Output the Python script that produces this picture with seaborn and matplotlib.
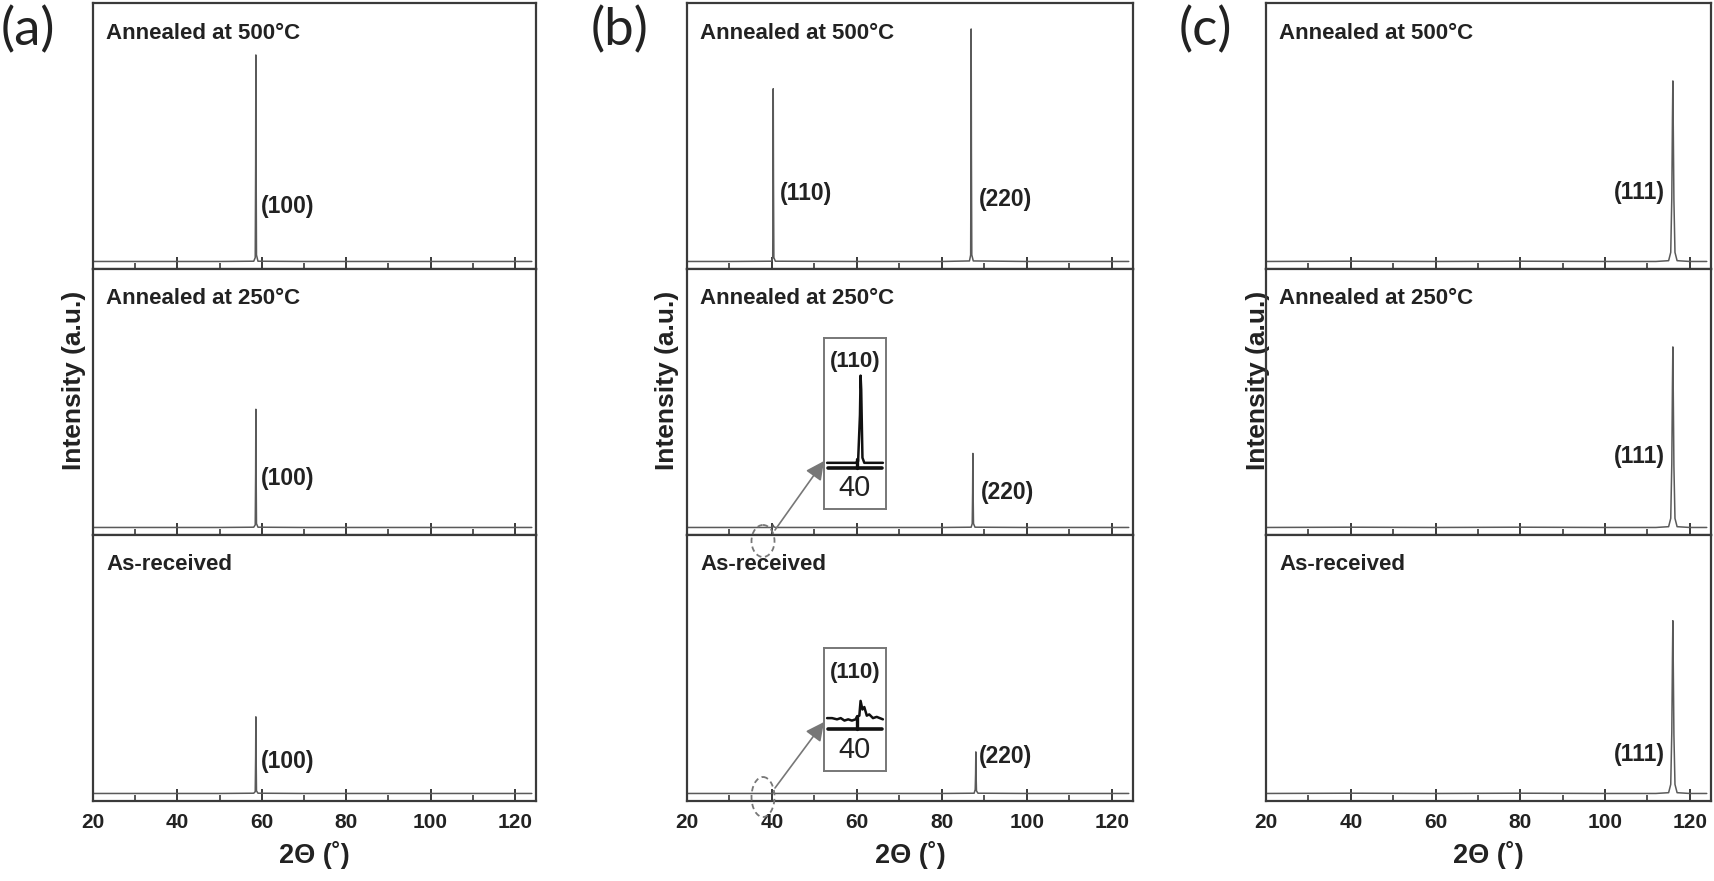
import numpy as np
import pandas as pd
import matplotlib
matplotlib.use("Agg")
import matplotlib.pyplot as plt
import seaborn as sns
from matplotlib.transforms import Affine2D
from matplotlib.patches import Ellipse, FancyArrowPatch
from matplotlib.ticker import MultipleLocator, FixedLocator

sns.set_theme(style="white")
NARROW = ['Liberation Sans Narrow', 'Liberation Sans', 'DejaVu Sans']
plt.rcParams['font.family'] = NARROW

# ---------------- data ----------------
conditions = ["Annealed at 500°C", "Annealed at 250°C", "As-received"]
panel_tags = ["(a)", "(b)", "(c)"]
x_ticks = [20, 40, 60, 80, 100, 120]

# (a) (100) peak near 58.6 deg
a500_x = [20, 35, 50, 58.1, 58.45, 58.55, 58.6, 58.66, 58.75, 59.1, 70, 90, 110, 124]
a500_y = [0.5, 0.5, 0.5, 0.6, 2.0, 38, 80, 40, 3.0, 0.6, 0.5, 0.5, 0.5, 0.5]
a250_x = [20, 35, 50, 58.1, 58.45, 58.55, 58.6, 58.66, 58.75, 59.1, 70, 90, 110, 124]
a250_y = [0.5, 0.5, 0.5, 0.6, 1.5, 22, 46, 24, 2.0, 0.6, 0.5, 0.5, 0.5, 0.5]
a0_x = [20, 35, 50, 58.1, 58.45, 58.55, 58.6, 58.66, 58.75, 59.1, 70, 90, 110, 124]
a0_y = [0.5, 0.5, 0.5, 0.6, 1.2, 15, 30, 16, 1.5, 0.6, 0.5, 0.5, 0.5, 0.5]

# (b) (110) near 40.3 deg, (220) near 87 deg
b500_x = [20, 30, 39.9, 40.18, 40.26, 40.3, 40.36, 40.45, 40.8, 60, 80, 86.5, 86.78, 86.86, 86.9,
          86.96, 87.05, 87.4, 100, 124]
b500_y = [0.5, 0.5, 0.6, 2.0, 30, 67, 32, 2.0, 0.6, 0.5, 0.5, 0.7, 3.0, 45, 90, 42, 3.0, 0.7, 0.5, 0.5]
b250_x = [20, 30, 39.9, 40.2, 40.3, 40.4, 40.8, 60, 80, 86.9, 87.15, 87.24, 87.3, 87.36, 87.45,
          87.8, 100, 124]
b250_y = [0.5, 0.5, 0.5, 0.8, 1.4, 0.8, 0.5, 0.5, 0.5, 0.6, 2.0, 14, 29, 14, 2.0, 0.6, 0.5, 0.5]
b0_x = [20, 30, 39.9, 40.3, 40.8, 60, 80, 87.6, 87.85, 87.94, 88.0, 88.06, 88.15, 88.5, 100, 124]
b0_y = [0.5, 0.5, 0.5, 0.8, 0.5, 0.5, 0.5, 0.6, 2.0, 8.0, 16.5, 8.0, 1.5, 0.6, 0.5, 0.5]

# (c) (111) near 116 deg
c500_x = [20, 40, 60, 80, 100, 112, 115.0, 115.5, 115.75, 115.9, 116.0, 116.1, 116.25, 116.5,
          117.0, 120, 124]
c500_y = [0.5, 0.6, 0.5, 0.6, 0.5, 0.5, 0.8, 4.0, 25, 55, 70, 52, 24, 4.0, 0.8, 0.5, 0.5]
c250_x = [20, 40, 60, 80, 100, 112, 115.0, 115.5, 115.75, 115.9, 116.0, 116.1, 116.25, 116.5,
          117.0, 120, 124]
c250_y = [0.5, 0.6, 0.5, 0.6, 0.5, 0.5, 0.8, 4.0, 25, 55, 70, 52, 24, 4.0, 0.8, 0.5, 0.5]
c0_x = [20, 40, 60, 80, 100, 112, 115.0, 115.5, 115.75, 115.9, 116.0, 116.1, 116.25, 116.5,
        117.0, 120, 124]
c0_y = [0.5, 0.6, 0.5, 0.6, 0.5, 0.5, 0.8, 4.0, 24, 52, 67, 50, 23, 4.0, 0.8, 0.5, 0.5]

# inset spectra of the (110) reflection in panel (b)
ins250_x = [37.6, 39.0, 39.9, 40.1, 40.25, 40.3, 40.35, 40.45, 40.6, 42.1]
ins250_y = [0.27, 0.27, 0.27, 0.28, 0.55, 0.78, 0.70, 0.30, 0.27, 0.27]
ins0_x = [37.6, 38.0, 38.4, 38.7, 39.0, 39.3, 39.6, 39.9, 40.0, 40.2, 40.3, 40.45, 40.6, 40.8,
          41.0, 41.3, 41.6, 42.1]
ins0_y = [0.43, 0.43, 0.42, 0.43, 0.41, 0.42, 0.41, 0.42, 0.44, 0.45, 0.57, 0.50, 0.52, 0.45,
          0.46, 0.43, 0.44, 0.42]

spectra = {
    0: [(a500_x, a500_y), (a250_x, a250_y), (a0_x, a0_y)],
    1: [(b500_x, b500_y), (b250_x, b250_y), (b0_x, b0_y)],
    2: [(c500_x, c500_y), (c250_x, c250_y), (c0_x, c0_y)],
}
# peak labels: (column, row, text, x, y, ha)
peak_labels = [
    (0, 0, "(100)", 59.9, 21.5, "left"), (0, 1, "(100)", 59.9, 19.5, "left"),
    (0, 2, "(100)", 59.9, 12.7, "left"),
    (1, 0, "(110)", 41.8, 26.5, "left"), (1, 0, "(220)", 88.6, 24.5, "left"),
    (1, 1, "(220)", 89.1, 13.8, "left"), (1, 2, "(220)", 88.7, 14.6, "left"),
    (2, 0, "(111)", 114.0, 27.0, "right"), (2, 1, "(111)", 114.0, 28.0, "right"),
    (2, 2, "(111)", 114.0, 15.5, "right"),
]

# ---------------- layout ----------------
W, H = 1715, 881
fig = plt.figure(figsize=(W / 100, H / 100), dpi=100)
fig.patch.set_facecolor("white")
pix = Affine2D().scale(1 / W, -1 / H).translate(0, 1) + fig.transFigure


def rect(x0, x1, ytop, ybot):
    return [x0 / W, 1 - ybot / H, (x1 - x0) / W, (ybot - ytop) / H]


col_x = [(93, 536), (687, 1133), (1266, 1711)]
row_y = [(3, 269), (269, 535), (535, 801)]
SPINE = "#3a3a3a"
LINE = "#5a5a5a"
TXT = "#222222"

axes = {}
for c in range(3):
    for r in range(3):
        ax = fig.add_axes(rect(col_x[c][0], col_x[c][1], row_y[r][0], row_y[r][1]))
        axes[(c, r)] = ax
        xs, ys = spectra[c][r]
        df = pd.DataFrame({"two_theta": xs, "intensity": ys})
        sns.lineplot(data=df, x="two_theta", y="intensity", ax=ax, color=LINE,
                     lw=1.1, sort=False, estimator=None)
        ax.set_xlim(20, 125)
        ax.set_ylim(-2.4, 100)
        ax.set_xlabel("")
        ax.set_ylabel("")
        ax.set_yticks([])
        ax.xaxis.set_major_locator(FixedLocator(x_ticks))
        ax.xaxis.set_minor_locator(MultipleLocator(10))
        ax.tick_params(axis="x", which="major", direction="in", length=9, width=1.4,
                       color=SPINE, bottom=True, top=False)
        ax.tick_params(axis="x", which="minor", direction="in", length=4.5, width=1.2,
                       color=SPINE, bottom=True, top=False)
        for s in ax.spines.values():
            s.set_color(SPINE)
            s.set_linewidth(1.6)
        if r < 2:
            ax.set_xticklabels([])
        else:
            ax.set_xticklabels([str(t) for t in x_ticks], fontsize=15, fontweight="bold",
                               color=TXT)
            ax.tick_params(axis="x", which="major", pad=9)
            ax.set_xlabel("2Θ (˚)", fontsize=19.5, fontweight="bold", color=TXT)
            ax.xaxis.set_label_coords(0.5, -(855 - 801) / 266)
            ax.xaxis.label.set_va("center")
        ax.text(0.03, (266 - 30) / 266, conditions[r], transform=ax.transAxes,
                fontsize=16, fontweight="bold", color=TXT, va="center", ha="left")
        if r == 1:
            ax.set_ylabel("Intensity (a.u.)", fontsize=19, fontweight="bold", color=TXT)
            ax.yaxis.set_label_coords(-(col_x[c][0] - [74, 667, 1258][c]) /
                                      (col_x[c][1] - col_x[c][0]), 0.58)
            ax.yaxis.label.set_va("center")

for (c, r, txt, x, y, ha) in peak_labels:
    axes[(c, r)].text(x, y, txt, fontsize=16.5, fontweight="bold", color=TXT,
                      ha=ha, va="center")

# panel tags
for c, (tag, xp) in enumerate(zip(panel_tags, [28, 620, 1205])):
    fig.text(xp, 30, tag, transform=pix, fontsize=38, family=["Lato", "DejaVu Sans"],
             color=TXT, ha="center", va="center")


# insets in panel (b)
def add_inset(box, xs, ys, axis_f, lab_f, num_f, tick_top):
    left, top, right, bottom = box
    iax = fig.add_axes(rect(left, right, top, bottom), zorder=5)
    iax.set_facecolor("white")
    for s in iax.spines.values():
        s.set_color("#777")
        s.set_linewidth(1.4)
    iax.set_xticks([])
    iax.set_yticks([])
    iax.set_xlim(37.35, 42.35)
    iax.set_ylim(0, 1)
    sns.lineplot(x=xs, y=ys, ax=iax, color="#111", lw=1.8, sort=False, estimator=None)
    iax.axhline(axis_f, xmin=0.06, xmax=0.94, color="#111", lw=2.6)
    iax.plot([40, 40], [axis_f, tick_top], color="#111", lw=2.4)
    iax.text(0.5, lab_f, "(110)", transform=iax.transAxes, fontsize=16,
             fontweight="bold", ha="center", va="center", color=TXT)
    iax.text(0.5, num_f, "40", transform=iax.transAxes, fontsize=21,
             ha="center", va="center", color=TXT,
             family=["Liberation Sans", "DejaVu Sans"])
    iax.set_xlabel("")
    iax.set_ylabel("")
    return iax


add_inset((824, 338, 886, 509), ins250_x, ins250_y, 0.24, 0.86, 0.12, 0.29)
add_inset((824, 648, 886, 771), ins0_x, ins0_y, 0.34, 0.80, 0.17, 0.45)

# dashed ellipses and arrows
for (cx, cy, ew, eh, a_from, a_to) in [
    (763, 541, 23, 32, (775, 530), (824, 461)),
    (763, 797, 23, 40, (775, 788), (824, 722)),
]:
    e = Ellipse((cx, cy), ew, eh, transform=pix, fill=False, ls=(0, (3, 2)),
                ec="#777", lw=1.3)
    fig.add_artist(e)
    arr = FancyArrowPatch(posA=a_from, posB=a_to, transform=pix, arrowstyle="-|>",
                          mutation_scale=28, color="#777", lw=1.2, shrinkA=0, shrinkB=0)
    fig.add_artist(arr)

fig.savefig("out.png", dpi=100, facecolor="white")
